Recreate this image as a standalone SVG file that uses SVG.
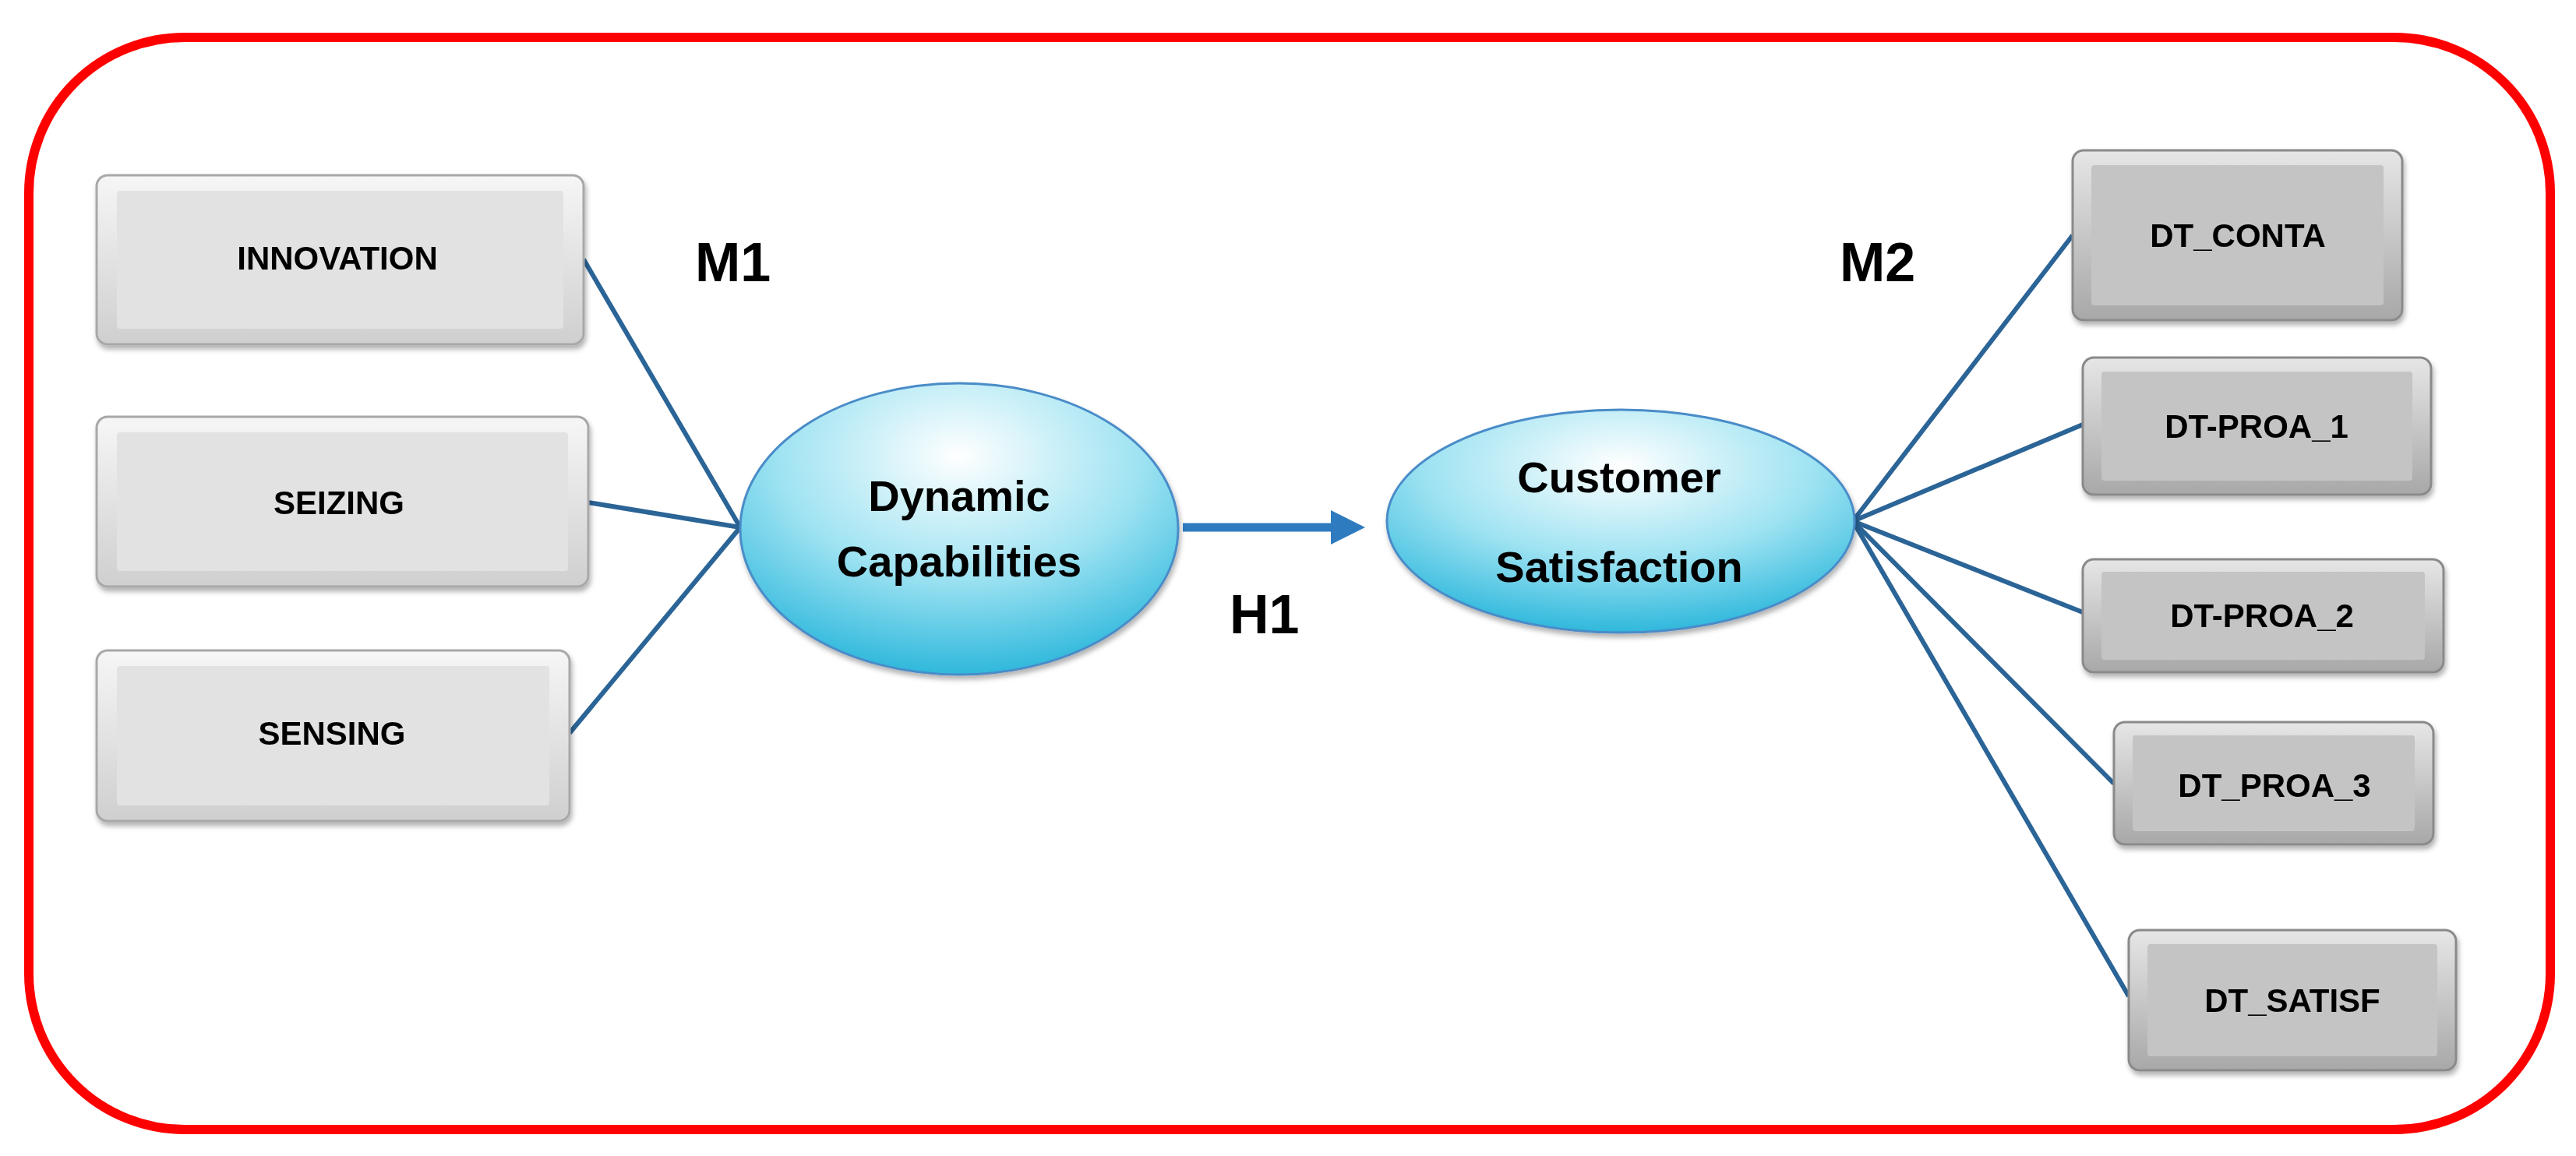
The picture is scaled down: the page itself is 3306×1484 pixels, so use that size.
<svg xmlns="http://www.w3.org/2000/svg" width="3306" height="1484" viewBox="0 0 3306 1484">
<defs>
<style>
.t{font-family:"Liberation Sans",Arial,sans-serif;font-weight:bold;fill:#000;text-anchor:middle}
.bx{font-size:42px}
.lb{font-size:70px;text-anchor:start}
.el{font-size:56px}
.ln{stroke:#2b6496;stroke-width:6;fill:none}
.boxL{fill:url(#gL);stroke:#a8a8a8;stroke-width:3}
.boxR{fill:url(#gR);stroke:#8a8a8a;stroke-width:3}
.inL{fill:#e2e2e2}
.inR{fill:#c4c4c4}
.ell{fill:url(#ge);stroke:#4a8cc8;stroke-width:3}
</style>
<linearGradient id="gL" x1="0" y1="0" x2="0" y2="1"><stop offset="0" stop-color="#f6f6f6"/><stop offset="1" stop-color="#cfcfcf"/></linearGradient>
<linearGradient id="gR" x1="0" y1="0" x2="0" y2="1"><stop offset="0" stop-color="#e6e6e6"/><stop offset="1" stop-color="#a8a8a8"/></linearGradient>
<radialGradient id="ge" cx="0.5" cy="0.25" r="0.75"><stop offset="0" stop-color="#ffffff"/><stop offset="0.55" stop-color="#9fe3f2"/><stop offset="1" stop-color="#2fb8dc"/></radialGradient>
<marker id="ah" markerWidth="4" markerHeight="4" refX="2" refY="2" orient="auto" markerUnits="strokeWidth"><path d="M0,0 L4,2 L0,4 Z" fill="#2f7bc0"/></marker>
<filter id="sh" x="-5%" y="-5%" width="110%" height="115%"><feDropShadow dx="2" dy="5" stdDeviation="3" flood-color="#000" flood-opacity="0.3"/></filter>
</defs>
<rect x="37" y="48" width="3236" height="1402" rx="200" fill="#fff" stroke="#ff0000" stroke-width="12"/>
<g id="connectors">
<line class="ln" x1="749" y1="333" x2="950" y2="677"/>
<line class="ln" x1="755" y1="645" x2="950" y2="677"/>
<line class="ln" x1="731" y1="941" x2="950" y2="677"/>
<line class="ln" x1="2378" y1="669" x2="2660" y2="302"/>
<line class="ln" x1="2378" y1="669" x2="2673" y2="545"/>
<line class="ln" x1="2378" y1="669" x2="2673" y2="786"/>
<line class="ln" x1="2378" y1="669" x2="2713" y2="1006"/>
<line class="ln" x1="2378" y1="669" x2="2732" y2="1279"/>
<line x1="1518" y1="677" x2="1730" y2="677" stroke="#2f7bc0" stroke-width="11" marker-end="url(#ah)"/>
</g>
<g id="innovation" filter="url(#sh)"><rect class="boxL" x="124" y="225" width="625" height="217" rx="14"/><rect class="inL" x="150" y="245" width="573" height="177" rx="4"/><text class="t bx" x="433" y="346">INNOVATION</text></g>
<g id="seizing" filter="url(#sh)"><rect class="boxL" x="124" y="535" width="631" height="218" rx="14"/><rect class="inL" x="150" y="555" width="579" height="178" rx="4"/><text class="t bx" x="435" y="660">SEIZING</text></g>
<g id="sensing" filter="url(#sh)"><rect class="boxL" x="124" y="835" width="607" height="219" rx="14"/><rect class="inL" x="150" y="855" width="555" height="179" rx="4"/><text class="t bx" x="426" y="956">SENSING</text></g>
<g id="dt_conta" filter="url(#sh)"><rect class="boxR" x="2660" y="193" width="423" height="218" rx="14"/><rect class="inR" x="2684" y="212" width="375" height="180" rx="4"/><text class="t bx" x="2872" y="317">DT_CONTA</text></g>
<g id="dt_proa_1" filter="url(#sh)"><rect class="boxR" x="2673" y="459" width="447" height="176" rx="14"/><rect class="inR" x="2697" y="477" width="399" height="140" rx="4"/><text class="t bx" x="2896" y="562">DT-PROA_1</text></g>
<g id="dt_proa_2" filter="url(#sh)"><rect class="boxR" x="2673" y="718" width="463" height="145" rx="14"/><rect class="inR" x="2697" y="734" width="415" height="113" rx="4"/><text class="t bx" x="2903" y="805">DT-PROA_2</text></g>
<g id="dt_proa_3" filter="url(#sh)"><rect class="boxR" x="2713" y="927" width="410" height="157" rx="14"/><rect class="inR" x="2737" y="944" width="362" height="123" rx="4"/><text class="t bx" x="2919" y="1023">DT_PROA_3</text></g>
<g id="dt_satisf" filter="url(#sh)"><rect class="boxR" x="2732" y="1194" width="420" height="180" rx="14"/><rect class="inR" x="2756" y="1212" width="372" height="144" rx="4"/><text class="t bx" x="2942" y="1299">DT_SATISF</text></g>
<g id="dynamic_capabilities" filter="url(#sh)"><ellipse class="ell" cx="1231" cy="679" rx="281" ry="187"/><text class="t el" x="1231" y="656">Dynamic</text><text class="t el" x="1231" y="740">Capabilities</text></g>
<g id="customer_satisfaction" filter="url(#sh)"><ellipse class="ell" cx="2080" cy="669" rx="300" ry="143"/><text class="t el" x="2078" y="632">Customer</text><text class="t el" x="2078" y="747">Satisfaction</text></g>
<g id="labels">
<text class="t lb" x="892" y="361">M1</text>
<text class="t lb" x="1578" y="813">H1</text>
<text class="t lb" x="2361" y="361">M2</text>
</g>
</svg>
